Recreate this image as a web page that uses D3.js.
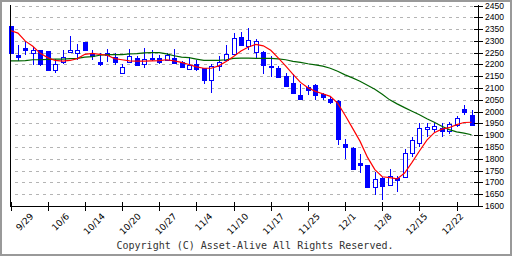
<!DOCTYPE html>
<html>
<head>
<meta charset="utf-8">
<script src="https://cdn.jsdelivr.net/npm/d3@7"></script>
<style>
body { margin: 0; background: #fff; }
svg { display: block; }
</style>
</head>
<body>
<script>
// daily candles, 9/29 .. 12/25
var open  = [2361,2239,2268,2248,2260,2255,2177,2211,2253,2249,2294,2243,2210,2250,2231,2165,2212,2227,2202,2222,2229,
             2220,2229,2209,2181,2203,2185,2136,2193,2217,2246,2316,2278,2253,2251,2195,2184,2150,2120,2072,2105,2112,
             2074,2055,2044,1862,1847,1782,1773,1682,1717,1689,1720,1724,1823,1869,1928,1927,1931,1916,1943,2013,1985];
var high  = [2365,2281,2299,2274,2260,2255,2224,2260,2319,2288,2294,2260,2250,2264,2250,2203,2264,2237,2268,2260,2239,
             2248,2267,2215,2230,2217,2185,2200,2234,2281,2333,2336,2353,2309,2255,2234,2192,2165,2161,2119,2112,2116,
             2079,2062,2048,1886,1850,1820,1773,1745,1724,1755,1728,1841,1893,1951,1950,1953,1950,1955,1981,2027,2006];
var low   = [2246,2216,2239,2196,2192,2171,2165,2202,2253,2220,2255,2217,2192,2210,2196,2161,2209,2196,2184,2213,2200,
             2217,2203,2185,2177,2172,2119,2081,2172,2214,2239,2277,2260,2223,2158,2147,2146,2107,2074,2048,2069,2048,
             2051,2031,1858,1799,1754,1738,1680,1647,1625,1689,1661,1723,1808,1851,1893,1914,1893,1907,1935,1985,1940];
var close = [2248,2230,2260,2260,2200,2175,2204,2233,2260,2260,2260,2234,2202,2239,2210,2189,2237,2199,2225,2228,2210,
             2239,2206,2189,2199,2181,2133,2195,2209,2246,2314,2281,2305,2299,2197,2189,2147,2109,2078,2052,2091,2069,
             2064,2040,1885,1851,1756,1773,1682,1714,1686,1728,1710,1825,1879,1929,1934,1938,1916,1947,1971,1999,1943];

// moving averages (short = red, long = green)
var maShort = [2344,2333,2299,2277,2247,2229,2217,2214,2217,2225,2243,2247,2243,2239,2225,2220,2215,2214,2214,2215,2216,
               2220,2215,2209,2200,2190,2184,2184,2194,2213,2234,2257,2274,2285,2279,2260,2228,2194,2158,2124,2101,2086,
               2076,2065,2036,1985,1930,1875,1807,1754,1724,1720,1715,1740,1785,1833,1879,1911,1926,1932,1945,1954,1955];
var maLong  = [2215,2215,2216,2220,2220,2222,2223,2223,2225,2226,2231,2233,2239,2242,2242,2242,2245,2246,2249,2250,2250,
               2245,2237,2231,2229,2223,2217,2217,2217,2220,2226,2227,2227,2226,2226,2226,2224,2220,2213,2209,2203,2198,
               2193,2184,2171,2156,2143,2129,2112,2095,2074,2050,2033,2017,2002,1987,1970,1955,1938,1924,1914,1909,1902];

var tickIdx    = [0,5,10,15,20,25,30,35,40,45,50,55,60];
var tickLabels = ["9/29","10/6","10/14","10/20","10/27","11/4","11/10","11/17","11/25","12/1","12/8","12/15","12/22"];
var yTicks = [1600,1650,1700,1750,1800,1850,1900,1950,2000,2050,2100,2150,2200,2250,2300,2350,2400,2450];

var W = 512, H = 256;
var blue = "#0000ff";

var svg = d3.select("body").append("svg")
    .attr("width", W)
    .attr("height", H);

svg.append("rect")
    .attr("x", 1).attr("y", 1)
    .attr("width", W - 2).attr("height", H - 2)
    .attr("fill", "#fff")
    .attr("stroke", "#999")
    .attr("stroke-width", 2);

var x = d3.scaleLinear().domain([0, open.length - 1]).range([10.5, 471.5]);
var y = d3.scaleLinear().domain([1600, 2450]).range([206, 5.5]);
var labelX = d3.scalePoint().domain(tickLabels).range([34, 464]);

function px(i) { return Math.round(x(i)) + 0.5; }
function py(v) { return Math.round(y(v)) + 0.5; }

// grid
svg.append("g").selectAll("line")
    .data(yTicks.filter(function(t){ return t > 1600; }))
    .enter().append("line")
    .attr("x1", 15).attr("x2", 473)
    .attr("y1", py).attr("y2", py)
    .attr("stroke", "#b4b4b4")
    .attr("stroke-dasharray", "3,4")
    .attr("shape-rendering", "crispEdges");

// candles
var c = svg.append("g").selectAll("g")
    .data(d3.range(open.length))
    .enter().append("g");

c.append("line")
    .attr("x1", px).attr("x2", px)
    .attr("y1", function(i){ return Math.round(y(high[i])); })
    .attr("y2", function(i){ return Math.round(y(low[i])); })
    .attr("stroke", blue)
    .attr("shape-rendering", "crispEdges");

c.append("rect")
    .attr("x", function(i){ return Math.round(x(i)) - 1.5; })
    .attr("y", function(i){ return Math.round(y(Math.max(open[i], close[i]))) + 0.5; })
    .attr("width", 4)
    .attr("height", function(i){
        return Math.max(1, Math.round(y(Math.min(open[i], close[i]))) - Math.round(y(Math.max(open[i], close[i]))));
    })
    .attr("fill", function(i){ return close[i] < open[i] ? blue : "#fff"; })
    .attr("stroke", blue)
    .attr("shape-rendering", "crispEdges");

// moving averages
var line = d3.line()
    .x(function(d, i){ return x(i); })
    .y(function(d){ return y(d); });

svg.append("path")
    .datum(maLong)
    .attr("d", line)
    .attr("fill", "none")
    .attr("stroke", "#006400")
    .attr("stroke-width", 1.2);

svg.append("path")
    .datum(maShort)
    .attr("d", line)
    .attr("fill", "none")
    .attr("stroke", "#ff0000")
    .attr("stroke-width", 1.2);

// axes
var ax = svg.append("g")
    .attr("stroke", "#000")
    .attr("shape-rendering", "crispEdges");
ax.append("line").attr("x1", 10.5).attr("x2", 10.5).attr("y1", 5).attr("y2", 206);
ax.append("line").attr("x1", 478.5).attr("x2", 478.5).attr("y1", 5).attr("y2", 207);
ax.append("line").attr("x1", 10).attr("x2", 479).attr("y1", 206.5).attr("y2", 206.5);

ax.selectAll("line.xt").data(tickIdx).enter().append("line")
    .attr("x1", px).attr("x2", px)
    .attr("y1", 202).attr("y2", 211);

ax.selectAll("line.yt").data(yTicks).enter().append("line")
    .attr("x1", 474).attr("x2", 483)
    .attr("y1", py).attr("y2", py);

svg.append("g").selectAll("text")
    .data(yTicks).enter().append("text")
    .attr("x", 485)
    .attr("y", function(d){ return y(d) + 3; })
    .attr("font-family", "Liberation Sans, Arial, sans-serif")
    .attr("font-size", "8.5px")
    .attr("fill", "#000")
    .text(function(d){ return d; });

svg.append("g").selectAll("text")
    .data(tickLabels).enter().append("text")
    .attr("transform", function(d){ return "translate(" + labelX(d) + ",217) rotate(-45)"; })
    .attr("text-anchor", "end")
    .attr("font-family", "DejaVu Sans, sans-serif")
    .attr("font-size", "9px")
    .attr("fill", "#000")
    .text(function(d){ return d; });

svg.append("text")
    .attr("x", 255)
    .attr("y", 249)
    .attr("text-anchor", "middle")
    .attr("font-family", "DejaVu Sans Mono, monospace")
    .attr("font-size", "10px")
    .attr("fill", "#333")
    .text("Copyright (C) Asset-Alive All Rights Reserved.");
</script>
</body>
</html>
